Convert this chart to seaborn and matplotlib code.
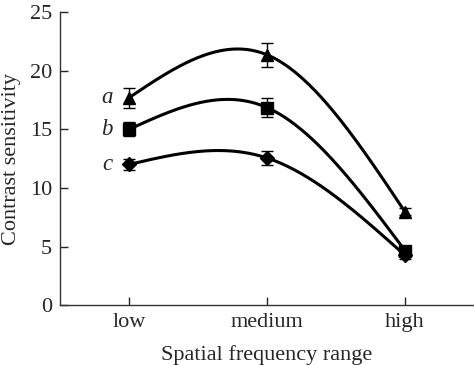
import numpy as np
import pandas as pd
import matplotlib
matplotlib.use("Agg")
import matplotlib.pyplot as plt
import seaborn as sns

# values
ranges = ["low", "medium", "high"]
series_names = ["a", "b", "c"]
sens_a = [17.7, 21.35, 7.95]
sens_b = [15.0, 16.85, 4.65]
sens_c = [12.0, 12.55, 4.25]
err_a = [0.85, 1.05, 0.3]
err_b = [0.6, 0.8, 0.3]
err_c = [0.5, 0.6, 0.3]
markers = ["^", "s", "D"]
marker_sizes = [8.5, 8, 7]


def natural_spline(x, y, n=200):
    # natural cubic spline through the data points, for the smooth line
    x = np.asarray(x, float)
    y = np.asarray(y, float)
    k = len(x)
    h = np.diff(x)
    A = np.zeros((k, k))
    r = np.zeros(k)
    A[0, 0] = A[-1, -1] = 1
    for i in range(1, k - 1):
        A[i, i - 1] = h[i - 1]
        A[i, i] = 2 * (h[i - 1] + h[i])
        A[i, i + 1] = h[i]
        r[i] = 6 * ((y[i + 1] - y[i]) / h[i] - (y[i] - y[i - 1]) / h[i - 1])
    M = np.linalg.solve(A, r)
    xs = np.linspace(x[0], x[-1], n)
    idx = np.clip(np.searchsorted(x, xs) - 1, 0, k - 2)
    x0, x1 = x[idx], x[idx + 1]
    hh = x1 - x0
    ys = (M[idx] * (x1 - xs) ** 3 + M[idx + 1] * (xs - x0) ** 3) / (6 * hh) \
        + (y[idx] / hh - M[idx] * hh / 6) * (x1 - xs) \
        + (y[idx + 1] / hh - M[idx + 1] * hh / 6) * (xs - x0)
    return xs, ys


sns.set_style("ticks")
plt.rcParams['font.family'] = ['Liberation Serif', 'DejaVu Serif']

fig = plt.figure(figsize=(4.74, 3.65), dpi=100)
ax = fig.add_axes([0.127, 0.164, 0.873, 0.803])

pos = np.arange(len(ranges))
for name, vals, errs, mk, ms in zip(series_names, [sens_a, sens_b, sens_c],
                                    [err_a, err_b, err_c], markers, marker_sizes):
    xs, ys = natural_spline(pos, vals)
    sns.lineplot(x=xs, y=ys, ax=ax, color="black", linewidth=2.2, sort=False)
    ax.errorbar(pos, vals, yerr=errs, fmt=mk, color="black", markersize=ms,
                elinewidth=1, capsize=4, capthick=1, zorder=3)
    ax.text(pos[0] - 0.12, vals[0], name, fontsize=16.5, style="italic",
            ha="right", va="center")

ax.set_xlim(-0.5, 2.5)
ax.set_ylim(0, 25)
ax.set_xticks(pos)
ax.set_xticklabels(ranges)
ax.set_yticks([0, 5, 10, 15, 20, 25])
ax.tick_params(direction="in", length=6, width=1, labelsize=16, pad=6)
ax.set_xlabel("Spatial frequency range", fontsize=16, labelpad=9)
ax.set_ylabel("Contrast sensitivity", fontsize=16, labelpad=6)
sns.despine(ax=ax)
for s in ["left", "bottom"]:
    ax.spines[s].set_linewidth(1)
    ax.spines[s].set_color("#333333")

fig.savefig("out.png", dpi=100)
